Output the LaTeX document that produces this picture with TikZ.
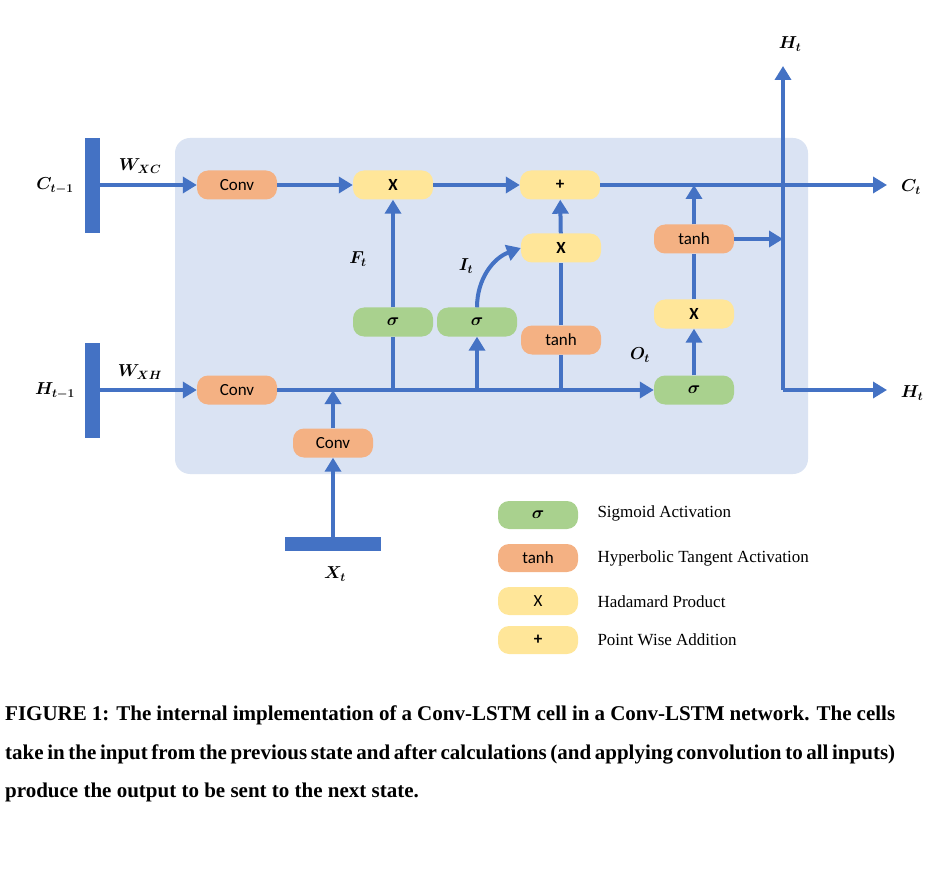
\documentclass[tikz,border=0pt]{standalone}
\usepackage{bm}
\usepackage{fontspec}
\setmainfont{Liberation Serif}
\newfontfamily\carl{Carlito}
\usetikzlibrary{arrows.meta}
\definecolor{lb}{HTML}{4472C4}
\definecolor{bg}{HTML}{DAE3F3}
\definecolor{og}{HTML}{F4B183}
\definecolor{yl}{HTML}{FFE699}
\definecolor{gr}{HTML}{A9D18E}
\begin{document}
\begin{tikzpicture}[x=1pt,y=-1pt,
  box/.style={rounded corners=11pt,minimum width=80pt,minimum height=29pt,inner sep=0pt,font=\carl\fontsize{17}{17}\selectfont},
  cv/.style={box,fill=og},
  yw/.style={box,fill=yl},
  sg/.style={box,fill=gr},
  ln/.style={draw=lb,line width=4pt},
  ar/.style={ln,-{Triangle[length=14pt,width=16pt]}},
  bar/.style={fill=lb,inner sep=0pt},
  ml/.style={font=\fontsize{18}{18}\selectfont},
  lg/.style={anchor=west,font=\fontsize{17}{17}\selectfont}]
\useasboundingbox (0,0) rectangle (945,885);
\fill[bg,rounded corners=15pt] (175,138) rectangle (808,474);
% bars
\node[bar,minimum width=15pt,minimum height=95pt] (cb) at (92.5,185.5) {};
\node[bar,minimum width=15pt,minimum height=95pt] (hb) at (92.5,390.5) {};
\node[bar,minimum width=96pt,minimum height=14pt] (xb) at (333,544) {};
% nodes
\node[cv] (c1) at (237,185) {Conv};
\node[cv] (c2) at (237,390) {Conv};
\node[cv] (c3) at (333,443) {Conv};
\node[yw] (x1) at (393,185) {\textbf{X}};
\node[yw] (p) at (560,185) {\textbf{+}};
\node[yw] (x2) at (561,248) {\textbf{X}};
\node[cv] (t1) at (561,340) {tanh};
\node[sg] (s1) at (393,322) {$\bm{\sigma}$};
\node[sg] (s2) at (477,322) {$\bm{\sigma}$};
\node[cv] (t2) at (694,239) {tanh};
\node[yw] (x3) at (694,314) {\textbf{X}};
\node[sg] (s3) at (694,390) {$\bm{\sigma}$};
\coordinate (ht) at (783,66);
\coordinate (hj) at (783,390);
\coordinate (ce) at (887,185);
\coordinate (he) at (887,390);
\coordinate (ch) at (694,185);
\coordinate (hs1) at (393,390);
\coordinate (hs2) at (477,390);
\coordinate (hs3) at (561,390);
\coordinate (hx) at (333,390);
\coordinate (tj) at (783,239);
% connectors
\draw[ar] (cb.east|-c1) -- (c1);
\draw[ar] (hb.east|-c2) -- (c2);
\draw[ar] (c1) -- (x1);
\draw[ar] (x1) -- (p);
\draw[ar] (p) -- (ce);
\draw[ar] (c2) -- (s3);
\draw[ar] (xb) -- (c3);
\draw[ar] (c3) -- (hx);
\draw[ln] (hs1) -- (s1);
\draw[ar] (s1) -- (x1);
\draw[ar] (hs2) -- (s2);
\draw[ar] (s2.north) to[out=90,in=200] (x2.west);
\draw[ln] (hs3) -- (t1);
\draw[ln] (t1) -- (x2);
\draw[ar] (x2) -- (p);
\draw[ar] (s3) -- (x3);
\draw[ln] (x3) -- (t2);
\draw[ar] (t2) -- (ch);
\draw[ar] (t2) -- (tj);
\draw[ar] (hj) -- (ht);
\draw[ar] (hj) -- (he);
% labels
\node[ml] at (55,186) {$\bm{C_{t-1}}$};
\node[ml] at (55,391) {$\bm{H_{t-1}}$};
\node[ml] at (140,166) {$\bm{W_{XC}}$};
\node[ml] at (140,372) {$\bm{W_{XH}}$};
\node[ml] at (358,259) {$\bm{F_t}$};
\node[ml] at (466,266) {$\bm{I_t}$};
\node[ml] at (640,355) {$\bm{O_t}$};
\node[ml] at (335,574) {$\bm{X_t}$};
\node[ml] at (790,44) {$\bm{H_t}$};
\node[ml] at (911,187) {$\bm{C_t}$};
\node[ml] at (912,393) {$\bm{H_t}$};
% legend
\node[sg,minimum height=28pt] (l1) at (538,515) {$\bm{\sigma}$};
\node[cv,minimum height=28pt] (l2) at (538,558) {tanh};
\node[yw,minimum height=28pt] (l3) at (538,601) {X};
\node[yw,minimum height=28pt] (l4) at (538,640) {\textbf{+}};
\node[lg] at (594,513) {Sigmoid Activation};
\node[lg] at (594,558) {Hyperbolic Tangent Activation};
\node[lg] at (594,602) {Hadamard Product};
\node[lg] at (594,640) {Point Wise Addition};
% caption
\node[anchor=north west,text width=890pt,align=justify,inner sep=0pt,font=\fontsize{21}{38.3}\selectfont\bfseries] (cap) at (5,706) {FIGURE 1: The internal implementation of a Conv-LSTM cell in a Conv-LSTM network. The cells take in the input from the previous state and after calculations (and applying convolution to all inputs) produce the output to be sent to the next state.};
\end{tikzpicture}
\end{document}
